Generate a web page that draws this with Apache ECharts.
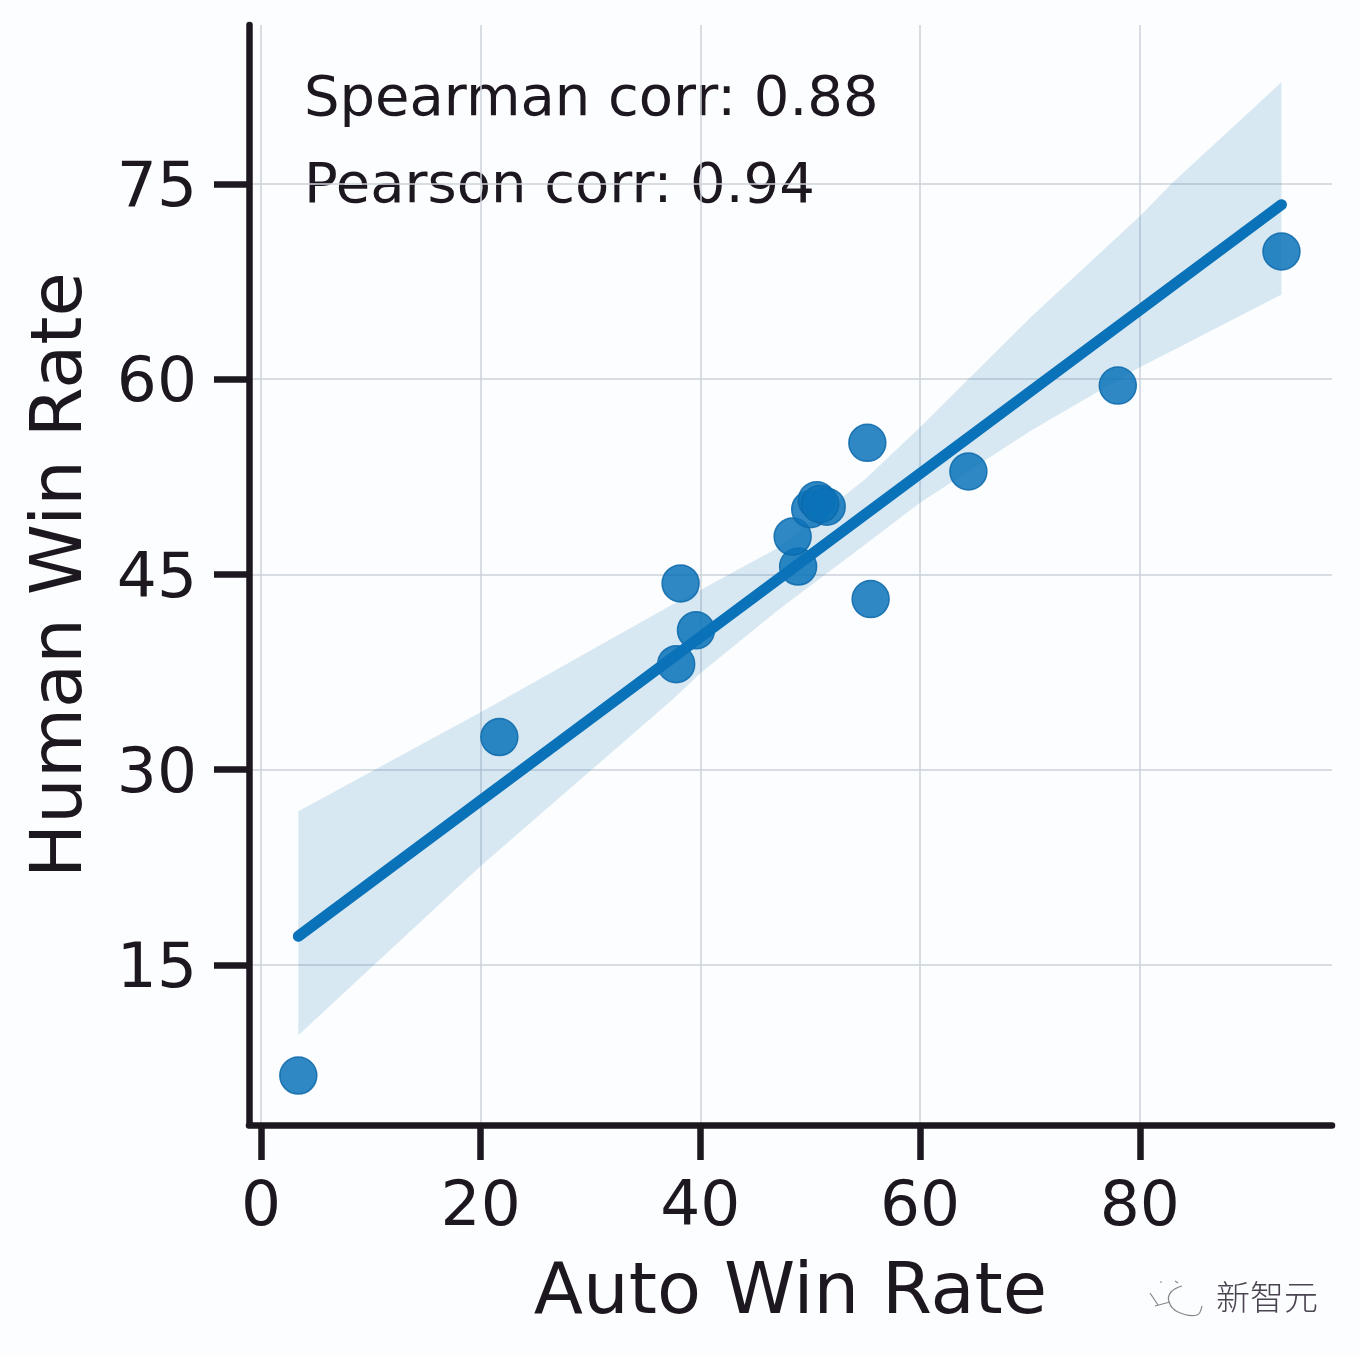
<!DOCTYPE html>
<html>
<head>
<meta charset="utf-8">
<title>Auto Win Rate vs Human Win Rate</title>
<script src="https://cdn.jsdelivr.net/npm/echarts@6/dist/echarts.min.js"></script>
<style>
  html, body { margin: 0; padding: 0; background: #fcfdfe; }
  #main { width: 1360px; height: 1356px; }
</style>
</head>
<body>
<div id="main"></div>
<script>
// values
var autoWin  = [3.4, 21.7, 37.8, 38.2, 39.6, 48.9, 48.4, 50.0, 50.6, 51.5, 50.9, 55.2, 55.5, 64.4, 78.0, 92.9];
var humanWin = [6.5, 32.5, 38.1, 44.3, 40.7, 45.6, 47.9, 50.0, 50.7, 50.2, 50.4, 55.1, 43.1, 52.9, 59.5, 69.8];
var fitX = [3.4, 92.9];
var fitY = [17.2, 73.4];
var bandX     = [3.4, 20.0, 37.5, 40.0, 47.0, 55.0, 60.0, 70.0, 80.0, 83.0, 92.9];
var bandUpper = [26.8, 34.4, 42.7, 43.8, 47.0, 52.3, 56.3, 64.7, 72.5, 75.1, 82.8];
var bandLower = [9.6, 22.6, 35.4, 37.4, 42.2, 47.3, 50.5, 56.0, 60.9, 62.2, 66.5];
var xTicks = [0, 20, 40, 60, 80];
var yTicks = [15, 30, 45, 60, 75];
var statLines = ['Spearman corr: 0.88', 'Pearson corr: 0.94'];

var ink = '#1d1720';
var blue = '#0a72b8';
var fontName = '"DejaVu Sans"';

var myChart = echarts.init(document.getElementById('main'), null, { renderer: 'canvas' });

function zip(a, b) {
    return a.map(function (v, i) { return [v, b[i]]; });
}

function makeAxis(name, gap, lo, hi, ticks, margin, topPad) {
    return {
        type: 'value',
        name: name,
        nameLocation: 'middle',
        nameGap: gap,
        nameTextStyle: { fontFamily: fontName, fontSize: 72, color: ink },
        min: lo,
        max: hi,
        axisLine: { show: true, onZero: false, lineStyle: { color: ink, width: 6.5, cap: 'round' } },
        axisTick: { show: true, customValues: ticks, length: 35, lineStyle: { color: ink, width: 6.5 } },
        axisLabel: {
            customValues: ticks,
            margin: margin,
            formatter: '{p|{value}}',
            rich: {
                // the top padding nudges the digits down against their tick
                p: { fontFamily: fontName, fontSize: 63, color: ink, padding: [topPad, 0, 0, 0] }
            }
        },
        splitLine: { show: true, lineStyle: { color: '#ccd1da', width: 1.5 } }
    };
}

// small doodle beside the watermark text
function doodle(points) {
    return {
        type: 'polyline',
        shape: { points: points, smooth: 0.4 },
        style: { stroke: '#85858c', lineWidth: 1.2, fill: null }
    };
}

myChart.setOption({
    backgroundColor: '#fcfdfe',
    animation: false,
    grid: { left: 249, right: 28, top: 25, bottom: 231, containLabel: false, outerBoundsMode: 'none' },
    xAxis: makeAxis('Auto Win Rate', 133, -1.09, 97.5, xTicks, 52, 0),
    yAxis: makeAxis('Human Win Rate', 151, 2.7, 87.2, yTicks, 52, 12),
    graphic: [
        { type: 'text', x: 304, y: 72, style: { text: statLines[0], font: '56px ' + fontName, fill: ink } },
        { type: 'text', x: 304, y: 159, style: { text: statLines[1], font: '56px ' + fontName, fill: ink } },
        { type: 'text', x: 1216, y: 1280, style: { text: '新智元', font: '300 34px "Noto Sans CJK SC"', fill: '#4a4450' } },
        {
            type: 'group',
            x: 1150,
            y: 1280,
            children: [
                doodle([[0, 13], [8, 25]]),
                doodle([[10, 2], [12, 2]]),
                doodle([[25, 1], [28, 3]]),
                doodle([[5, 26], [20, 22]]),
                doodle([[32, 6], [21, 12], [19, 22], [28, 32], [47, 35], [52, 26]])
            ]
        }
    ],
    series: [
        {
            // confidence band
            type: 'custom',
            coordinateSystem: 'cartesian2d',
            silent: true,
            z: 2,
            data: bandX.map(function (x, i) { return [x, bandUpper[i], bandLower[i]]; }),
            encode: { x: 0, y: [1, 2] },
            renderItem: function (params, api) {
                if (params.dataIndex !== 0) {
                    return null;
                }
                var top = bandX.map(function (x, i) { return api.coord([x, bandUpper[i]]); });
                var bottom = bandX.map(function (x, i) { return api.coord([x, bandLower[i]]); }).reverse();
                return {
                    type: 'polygon',
                    shape: { points: top.concat(bottom) },
                    style: { fill: 'rgba(10,114,184,0.15)' }
                };
            }
        },
        {
            type: 'scatter',
            z: 3,
            symbolSize: 37,
            itemStyle: { color: blue, opacity: 0.85, borderColor: '#0a68aa', borderWidth: 1.5 },
            data: zip(autoWin, humanWin)
        },
        {
            type: 'line',
            z: 4,
            showSymbol: false,
            symbol: 'none',
            lineStyle: { color: blue, width: 11, cap: 'round', opacity: 1 },
            data: zip(fitX, fitY)
        }
    ]
});
</script>
</body>
</html>
